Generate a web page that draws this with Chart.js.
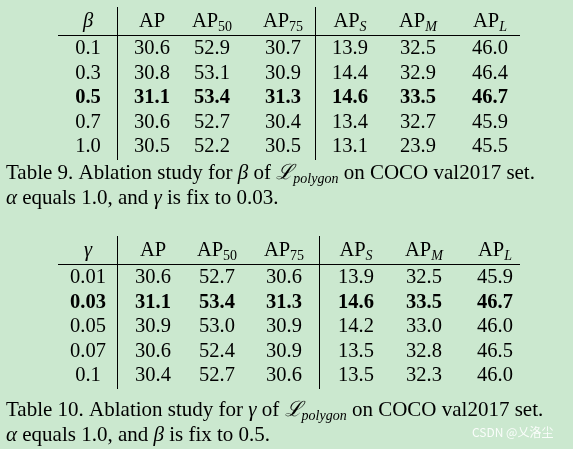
<!DOCTYPE html>
<html><head><meta charset="utf-8">
<script src="https://cdn.jsdelivr.net/npm/chart.js@4"></script>
<style>html,body{margin:0;padding:0;background:#cbe8cf;}canvas{display:block}</style>
</head><body>
<canvas id="c" width="573" height="449"></canvas>
<script>
const headers = ["AP","AP50","AP75","APS","APM","APL"];
const betaVals = ["0.1","0.3","0.5","0.7","1.0"];
const betaRows = [
 [30.6,52.9,30.7,13.9,32.5,46.0],
 [30.8,53.1,30.9,14.4,32.9,46.4],
 [31.1,53.4,31.3,14.6,33.5,46.7],
 [30.6,52.7,30.4,13.4,32.7,45.9],
 [30.5,52.2,30.5,13.1,23.9,45.5]];
const gammaVals = ["0.01","0.03","0.05","0.07","0.1"];
const gammaRows = [
 [30.6,52.7,30.6,13.9,32.5,45.9],
 [31.1,53.4,31.3,14.6,33.5,46.7],
 [30.9,53.0,30.9,14.2,33.0,46.0],
 [30.6,52.4,30.9,13.5,32.8,46.5],
 [30.4,52.7,30.6,13.5,32.3,46.0]];
const boldRowBeta = 2, boldRowGamma = 1;

const F = "Liberation Serif";
const T = 20.5, C = 21, S = 14;
function runs(ctx, segs, x, y, align){
  let w=0;
  segs.forEach(s=>{ctx.font=(s[2]||"")+" "+s[1]+"px '"+F+"'"; w+=ctx.measureText(s[0]).width;});
  let cx = align==="center"? x-w/2 : x;
  segs.forEach(s=>{ctx.font=(s[2]||"")+" "+s[1]+"px '"+F+"'"; ctx.fillText(s[0],cx,y+(s[3]||0)); cx+=ctx.measureText(s[0]).width;});
}
function headSegs(h){
  if(h==="AP") return [["AP",T]];
  const sub=h.slice(2); const it = /[SML]/.test(sub);
  return [["AP",T],[sub,S,it?"italic":"",4]];
}
function drawTable(ctx, top, sym, vals, rows, bold, cols, vlines, caption, capTop){
  ctx.fillStyle="#000"; ctx.textBaseline="alphabetic";
  const hy=top+24;
  runs(ctx,[[sym,T,"italic"]],cols[0],hy,"center");
  headers.forEach((h,i)=>runs(ctx,headSegs(h),cols[i+1],hy,"center"));
  ctx.strokeStyle="#000"; ctx.lineWidth=1;
  ctx.beginPath(); ctx.moveTo(58,top+32.5); ctx.lineTo(520,top+32.5); ctx.stroke();
  vlines.forEach(x=>{ctx.beginPath();ctx.moveTo(x+.5,top+4);ctx.lineTo(x+.5,top+157);ctx.stroke();});
  vals.forEach((v,r)=>{
    const y=top+51+r*24.6; const st=r===bold?"bold":"";
    runs(ctx,[[v,T,st]],cols[0],y,"center");
    rows[r].forEach((n,i)=>runs(ctx,[[n.toFixed(1),T,st]],cols[i+1],y,"center"));
  });
  caption.forEach((segs,i)=>runs(ctx,segs,6,capTop+i*25,"left"));
}
const tablePlugin={id:"tbl",afterDraw(chart){
  const ctx=chart.ctx; ctx.save();
  drawTable(ctx,3,"β",betaVals,betaRows,boldRowBeta,[88,152,212,283,350,418,490],[117,315],
   [[["Table 9. Ablation study for ",C],["β",C,"italic"],[" of ",C],["ℒ",C,"italic"],["polygon",S,"italic",4],[" on COCO val2017 set.",C]],
    [["α",C,"italic"],[" equals 1.0, and ",C],["γ",C,"italic"],[" is fix to 0.03.",C]]], 179);
  drawTable(ctx,232,"γ",gammaVals,gammaRows,boldRowGamma,[88,153,217,284,356,424,495],[117,319],
   [[["Table 10. Ablation study for ",C],["γ",C,"italic"],[" of ",C],["ℒ",C,"italic"],["polygon",S,"italic",4],[" on COCO val2017 set.",C]],
    [["α",C,"italic"],[" equals 1.0, and ",C],["β",C,"italic"],[" is fix to 0.5.",C]]], 416);
  ctx.font="12px 'Noto Sans CJK SC'"; ctx.fillStyle="rgba(255,255,255,0.9)";
  ctx.fillText("CSDN @乂洛尘",472,437);
  ctx.restore();
}};
new Chart(document.getElementById("c"),{type:"bar",
 data:{labels:betaVals,datasets:[{data:[],backgroundColor:"transparent"}]},
 options:{responsive:false,animation:false,devicePixelRatio:1,
  plugins:{legend:{display:false},tooltip:{enabled:false}},
  scales:{x:{display:false},y:{display:false}}},
 plugins:[tablePlugin]});
</script>
</body></html>
